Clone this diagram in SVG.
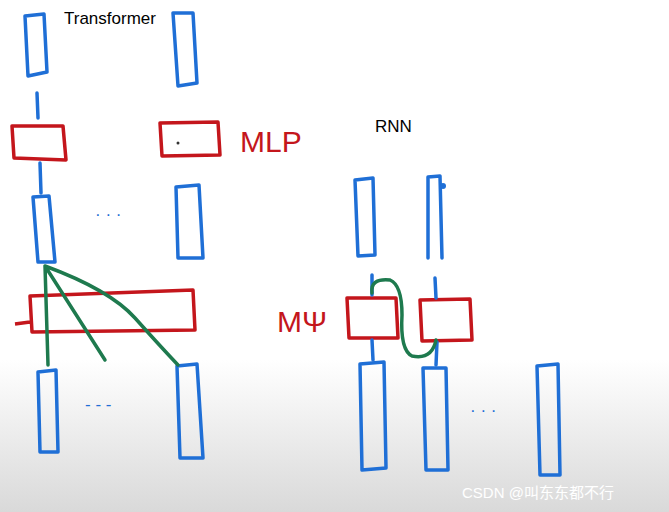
<svg xmlns="http://www.w3.org/2000/svg" width="669" height="512" viewBox="0 0 669 512">
<defs>
<linearGradient id="bg" x1="0" y1="0" x2="0" y2="1">
<stop offset="0" stop-color="#ffffff"/><stop offset="1" stop-color="#d9d9d9"/>
</linearGradient>
<style>
.b{fill:none;stroke:#1f6fd6;stroke-width:3.5;stroke-linejoin:round;stroke-linecap:round}
.r{fill:none;stroke:#c4161c;stroke-width:3.5;stroke-linejoin:round}
.g{fill:none;stroke:#1e7a4e;stroke-width:3.5;stroke-linecap:round}
.t{font-family:"Liberation Sans",Arial,sans-serif;font-size:17px;fill:#000}
.h{font-family:"Liberation Sans",Arial,sans-serif;font-size:30px;fill:#c4161c}
</style>
</defs>
<rect width="669" height="512" fill="#fff"/>
<rect y="360" width="669" height="152" fill="url(#bg)"/>
<g id="transformer">
<text class="t" x="64" y="24">Transformer</text>
<path class="b" d="M25 16 L44 14 L47 72 L28 76 Z"/>
<path class="b" d="M37 93 L38 118"/>
<path class="r" d="M12 126 L63 126 L66 160 L14 158 Z"/>
<path class="b" d="M40 163 L41 193"/>
<path class="b" d="M33 197 L49 196 L55 262 L38 262 Z"/>
<path class="r" d="M30 296 L193 290 L195 330 L32 332 Z M30 322 L15 324"/>
<path class="b" d="M38 372 L56 370 L58 452 L40 452 Z"/>
<path class="b" d="M173 13 L193 13 L197 83 L178 86 Z"/>
<path class="r" d="M160 123 L218 122 L220 155 L162 156 Z"/>
<circle cx="178" cy="143" r="1.5" fill="#333"/>
<path class="b" d="M176 187 L199 185 L203 258 L178 258 Z"/>
<path class="b" d="M177 366 L197 364 L203 458 L180 458 Z"/>
<text class="t" x="95" y="220" fill="#1f6fd6" style="fill:#1f6fd6">· · ·</text>
<text class="t" x="85" y="410" style="fill:#1f6fd6">- - -</text>
<text class="h" x="240" y="152">MLP</text>
</g>
<g id="rnn">
<text class="t" x="375" y="132">RNN</text>
<path class="b" d="M355 180 L373 178 L375 255 L358 256 Z"/>
<path class="b" d="M428 258 L428 177 L440 176 L442 258"/>
<circle cx="443" cy="186" r="3" fill="#1f6fd6"/>
<path class="r" d="M347 298 L396 298 L398 338 L349 338 Z"/>
<path class="r" d="M420 300 L470 299 L472 340 L422 341 Z"/>
<text class="h" x="277" y="332">MΨ</text>
<path class="b" d="M372 275 L372 295 M372 340 L373 360 M435 278 L436 298 M437 342 L436 365"/>
<path class="b" d="M360 364 L384 362 L386 468 L362 470 Z"/>
<path class="b" d="M423 368 L446 368 L448 470 L426 470 Z"/>
<path class="b" d="M537 366 L558 364 L560 475 L540 475 Z"/>
<text class="t" x="470" y="416" style="fill:#1f6fd6">· · ·</text>
</g>
<g id="connectors">
<path class="g" d="M45 266 L48 365 M45 266 L105 360 M45 266 Q110 290 135 318 T178 365"/>
<path class="g" d="M372 293 Q370 278 390 280 Q402 285 402 315 Q400 350 412 356 Q432 360 436 340"/>
</g>
<text x="462" y="498" style="font-family:'Liberation Sans','Noto Sans CJK SC',sans-serif;font-size:15px;fill:#fff">CSDN @叫东东都不行</text>
</svg>
